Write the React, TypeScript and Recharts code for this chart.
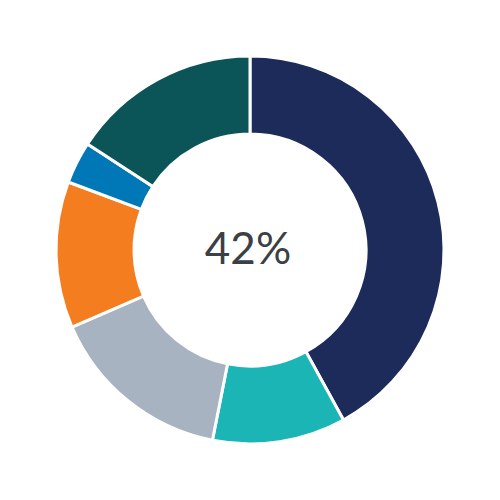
import React from "react";
import { PieChart, Pie, Cell } from "recharts";

const categories = ["A", "B", "C", "D", "E", "F"];
const values = [42, 11.1, 15.4, 12.2, 3.5, 15.8];
const colors = ["#1d2b5b", "#1bb5b6", "#a8b3c1", "#f47d20", "#0077b7", "#0b5457"];
const centerLabel = "42%";

const data = categories.map((name, i) => ({ name, value: values[i] }));

export default function App() {
  return (
    <div style={{ position: "absolute", left: 0, top: 0, width: 500, height: 500, background: "#fff" }}>
      <PieChart width={500} height={500}>
        <Pie
          data={data}
          dataKey="value"
          nameKey="name"
          cx={245}
          cy={245}
          innerRadius={116}
          outerRadius={194}
          startAngle={90}
          endAngle={-270}
          stroke="#ffffff"
          strokeWidth={3}
          isAnimationActive={false}
        >
          {data.map((d, i) => (
            <Cell key={d.name} fill={colors[i]} />
          ))}
        </Pie>
        <text
          x={248}
          y={247}
          textAnchor="middle"
          dominantBaseline="central"
          fontFamily="Lato, 'Open Sans', sans-serif"
          fontSize={44}
          fill="#3b4045"
        >
          {centerLabel}
        </text>
      </PieChart>
    </div>
  );
}
